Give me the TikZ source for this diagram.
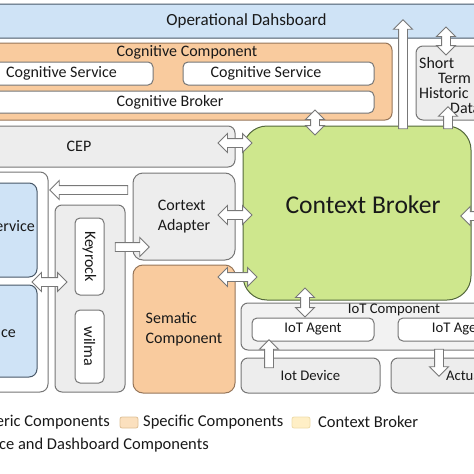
\documentclass[tikz,border=0pt]{standalone}
\usepackage{fontspec}
\setmainfont{Carlito}
\usetikzlibrary{shapes.arrows}
\definecolor{dashblue}{RGB}{207,227,246}
\definecolor{blueline}{RGB}{72,88,104}
\definecolor{orng}{RGB}{249,203,158}
\definecolor{orngline}{RGB}{150,118,90}
\definecolor{cbgreen}{RGB}{206,231,141}
\definecolor{cbline}{RGB}{84,104,60}
\definecolor{boxgray}{RGB}{237,237,237}
\definecolor{boxline}{RGB}{118,118,118}
\definecolor{arrline}{RGB}{120,120,120}
\definecolor{txtc}{RGB}{25,25,25}
\definecolor{swor}{RGB}{251,224,190}
\definecolor{sworline}{RGB}{222,192,150}
\definecolor{swyel}{RGB}{255,239,198}
\definecolor{swyelline}{RGB}{238,220,170}

\begin{document}
\begin{tikzpicture}[x=1pt,y=-1pt,font=\fontsize{16}{19}\selectfont,text=txtc,
  box/.style={draw=boxline,line width=1pt,rounded corners=7pt,anchor=north west,
              inner sep=0pt,outer sep=0pt,align=center},
  gbox/.style={box,fill=boxgray},
  wbox/.style={box,fill=white,rounded corners=5pt},
  obox/.style={box,fill=orng,draw=orngline},
  bluebox/.style={box,fill=dashblue,draw=blueline},
  iot/.style={font=\fontsize{14.7}{17}\selectfont},
  legend/.style={inner sep=0pt,font=\fontsize{16.5}{19}\selectfont},
  swatch/.style={box,line width=0.8pt,rounded corners=2pt,minimum width=18pt,minimum height=11pt},
  sarr/.style={single arrow,draw=arrline,fill=white,line width=0.9pt,inner sep=4pt,
               single arrow head extend=5pt,outer sep=0pt,minimum height=#1},
  darr/.style={double arrow,draw=arrline,fill=white,line width=0.9pt,inner sep=4pt,
               double arrow head extend=5pt,outer sep=0pt,minimum height=#1}]
 \useasboundingbox (0,0) rectangle (474,474);
 \clip (0,0) rectangle (474,474);
 % top row
 \node[bluebox,rounded corners=2pt,minimum width=513pt,minimum height=34pt,
       font=\fontsize{17}{20}\selectfont] (dash) at (-10,4) {Operational Dahsboard};
 \node[obox,minimum width=410pt,minimum height=77pt] (cogc) at (-18,43) {};
 \node (cogctxt) at (187,52.5) {Cognitive Component};
 \node[wbox,minimum width=183pt,minimum height=23pt] (cogs1) at (-30,62) {Cognitive Service};
 \node[wbox,minimum width=191pt,minimum height=23pt] (cogs2) at (183,62) {};
 \node (cogs2txt) at (266,73.5) {Cognitive Service};
 \node[wbox,minimum width=408pt,minimum height=22pt] (cogb) at (-34,91) {Cognitive Broker};
 \node[gbox,minimum width=70pt,minimum height=74pt] (sthd) at (416,46) {};
 \node[anchor=north west,align=left,inner sep=0pt,font=\fontsize{16}{15.2}\selectfont] (sthdtxt) at (419,57)
   {Short\\\hspace*{19pt}Term\\Historic\\\hspace*{31pt}Data};
 % middle
 \node[gbox,minimum width=312pt,minimum height=41pt] (cep) at (-77,126) {CEP};
 \node[box,fill=cbgreen,draw=cbline,rounded corners=24pt,minimum width=228pt,minimum height=174pt] (cb) at (243,126) {};
 \node[font=\fontsize{25.6}{30}\selectfont] (cbtxt) at (363,205) {Context Broker};
 \node[wbox,rounded corners=8pt,draw=boxline,minimum width=63pt,minimum height=220pt] (svc) at (-15,172) {};
 \node[bluebox,rounded corners=8pt,minimum width=52pt,minimum height=94pt] (svc1) at (-15,183) {};
 \node[bluebox,rounded corners=8pt,minimum width=52pt,minimum height=92pt] (svc2) at (-15,285) {};
 \node[anchor=east,inner sep=0pt] (svc1txt) at (35,226) {Service};
 \node[anchor=east,inner sep=0pt] (svc2txt) at (16,332) {Service};
 \node[gbox,minimum width=70pt,minimum height=187pt] (idm) at (55,205) {};
 \node[wbox,minimum width=29pt,minimum height=77pt] (kr) at (75,218) {\rotatebox{-90}{Keyrock}};
 \node[wbox,minimum width=29pt,minimum height=73pt] (wl) at (75,310) {\rotatebox{-90}{wilma}};
 \node[gbox,align=left,rounded corners=10pt,minimum width=102pt,minimum height=87pt,
       font=\fontsize{16}{20}\selectfont] (ca) at (133,173) {Cortext\\Adapter};
 \node[obox,align=left,rounded corners=10pt,minimum width=102pt,minimum height=128pt,
       font=\fontsize{16}{20}\selectfont] (sem) at (133,265) {Sematic\\Component};
 % iot
 \node[gbox,fill=boxgray!70,minimum width=306pt,minimum height=47pt] (iotc) at (241,303) {};
 \node[iot] (iotctxt) at (394,310) {IoT Component};
 \node[wbox,iot,minimum width=122pt,minimum height=23pt] (ia1) at (252,318) {IoT Agent};
 \node[wbox,iot,minimum width=125pt,minimum height=23pt] (ia2) at (398,318) {IoT Agent};
 \node[gbox,iot,minimum width=139pt,minimum height=35pt] (dev) at (241,358) {Iot Device};
 \node[gbox,iot,minimum width=162pt,minimum height=35pt] (act) at (391,358) {Actuator};
 % legend
 \node[legend,anchor=east] (lg1) at (110,422) {Generic Components};
 \node[swatch,fill=swor,draw=sworline] (sw2) at (120,417) {};
 \node[legend,anchor=west] (lg2) at (143,422) {Specific Components};
 \node[swatch,fill=swyel,draw=swyelline] (sw3) at (292,417) {};
 \node[legend,anchor=west] (lg3) at (318,422) {Context Broker};
 \node[legend,anchor=east] (lg4) at (209,445) {Service and Dashboard Components};
 % block arrows
 \node[sarr=109pt,rotate=90] (cb2dash) at (403,76.5) {};
 \node[darr=28pt,rotate=90] (dash2sthd) at (446,41) {};
 \node[sarr=22pt,rotate=90] (cb2sthd) at (448,120) {};
 \node[darr=25pt,rotate=90] (cogb2cb) at (315,122.5) {};
 \node[darr=34pt] (cep2cb) at (235,143) {};
 \node[sarr=78pt,rotate=180] (ca2svc) at (91,190) {};
 \node[darr=34pt] (ca2cb) at (235,215) {};
 \node[darr=39pt] (sem2cb) at (237.5,277) {};
 \node[sarr=34pt] (idm2ca) at (130,247) {};
 \node[darr=35pt] (svc2idm) at (49.5,282) {};
 \node[darr=29pt,rotate=90] (cb2ia) at (305,302.5) {};
 \node[sarr=28pt,rotate=90] (dev2ia) at (269,356) {};
 \node[sarr=27pt,rotate=-90] (ia2act) at (439,360.5) {};
 \node[sarr=30pt,rotate=180] (ext2cb) at (478,216) {};
\end{tikzpicture}
\end{document}
